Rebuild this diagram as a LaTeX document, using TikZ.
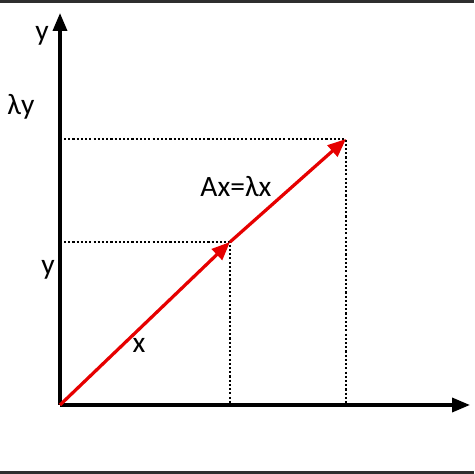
\documentclass[tikz,border=0pt]{standalone}
\usepackage{fontspec}
\setmainfont{Carlito}
\usepackage{tikz}
\usetikzlibrary{arrows.meta}
\definecolor{vecred}{HTML}{E60000}
\definecolor{framegray}{HTML}{2F2F2F}

\begin{document}
\begin{tikzpicture}[x=0.25cm, y=0.25cm,
    axis/.style={line width=2.4pt, -{Triangle[length=12.8pt, width=10pt]}},
    vec/.style={vecred, line width=2.3pt, -{Triangle[length=13pt, width=10.5pt]}},
    guide/.style={line width=1.6pt, dash pattern=on 1.5pt off 1.5pt},
    lbl/.style={font=\fontsize{21}{25}\selectfont, inner sep=0pt}]
    \useasboundingbox (-6,-6.9) rectangle (41.4,40.5);

    % Frame lines
    \fill[framegray] (-6,40.5) rectangle (41.4,40.22);
    \fill[framegray] (-6,-6.9) rectangle (41.4,-6.6);

    % Points
    \coordinate (O) at (0,0);
    \coordinate (xtip) at (41,0);
    \coordinate (ytip) at (0,39.2);
    \coordinate (P) at (17,16.3);
    \coordinate (Q) at (28.6,26.6);
    \coordinate (Py) at (0.4,16.3);
    \coordinate (Px) at (17,0);
    \coordinate (Qy) at (0.4,26.6);
    \coordinate (Qx) at (28.6,0);

    % Projections
    \draw[guide] (Py) -- (P) -- (Px);
    \draw[guide] (Qy) -- (Q) -- (Qx);

    % Axes
    \draw[axis] (O) -- (xtip);
    \draw[axis] (O) -- (ytip);

    % Vectors x and Ax
    \draw[vec] (O) -- (P);
    \draw[vec] (P) -- (Q);

    % Labels
    \node[lbl] (ylab) at (-1.8,36.9) {y};
    \node[lbl] (lylab) at (-3.9,29.8) {λy};
    \node[lbl] (ymid) at (-1.2,13.5) {y};
    \node[lbl] (xlab) at (7.9,6.0) {x};
    \node[lbl] (axlab) at (17.6,21.8) {Ax=λx};
\end{tikzpicture}
\end{document}
